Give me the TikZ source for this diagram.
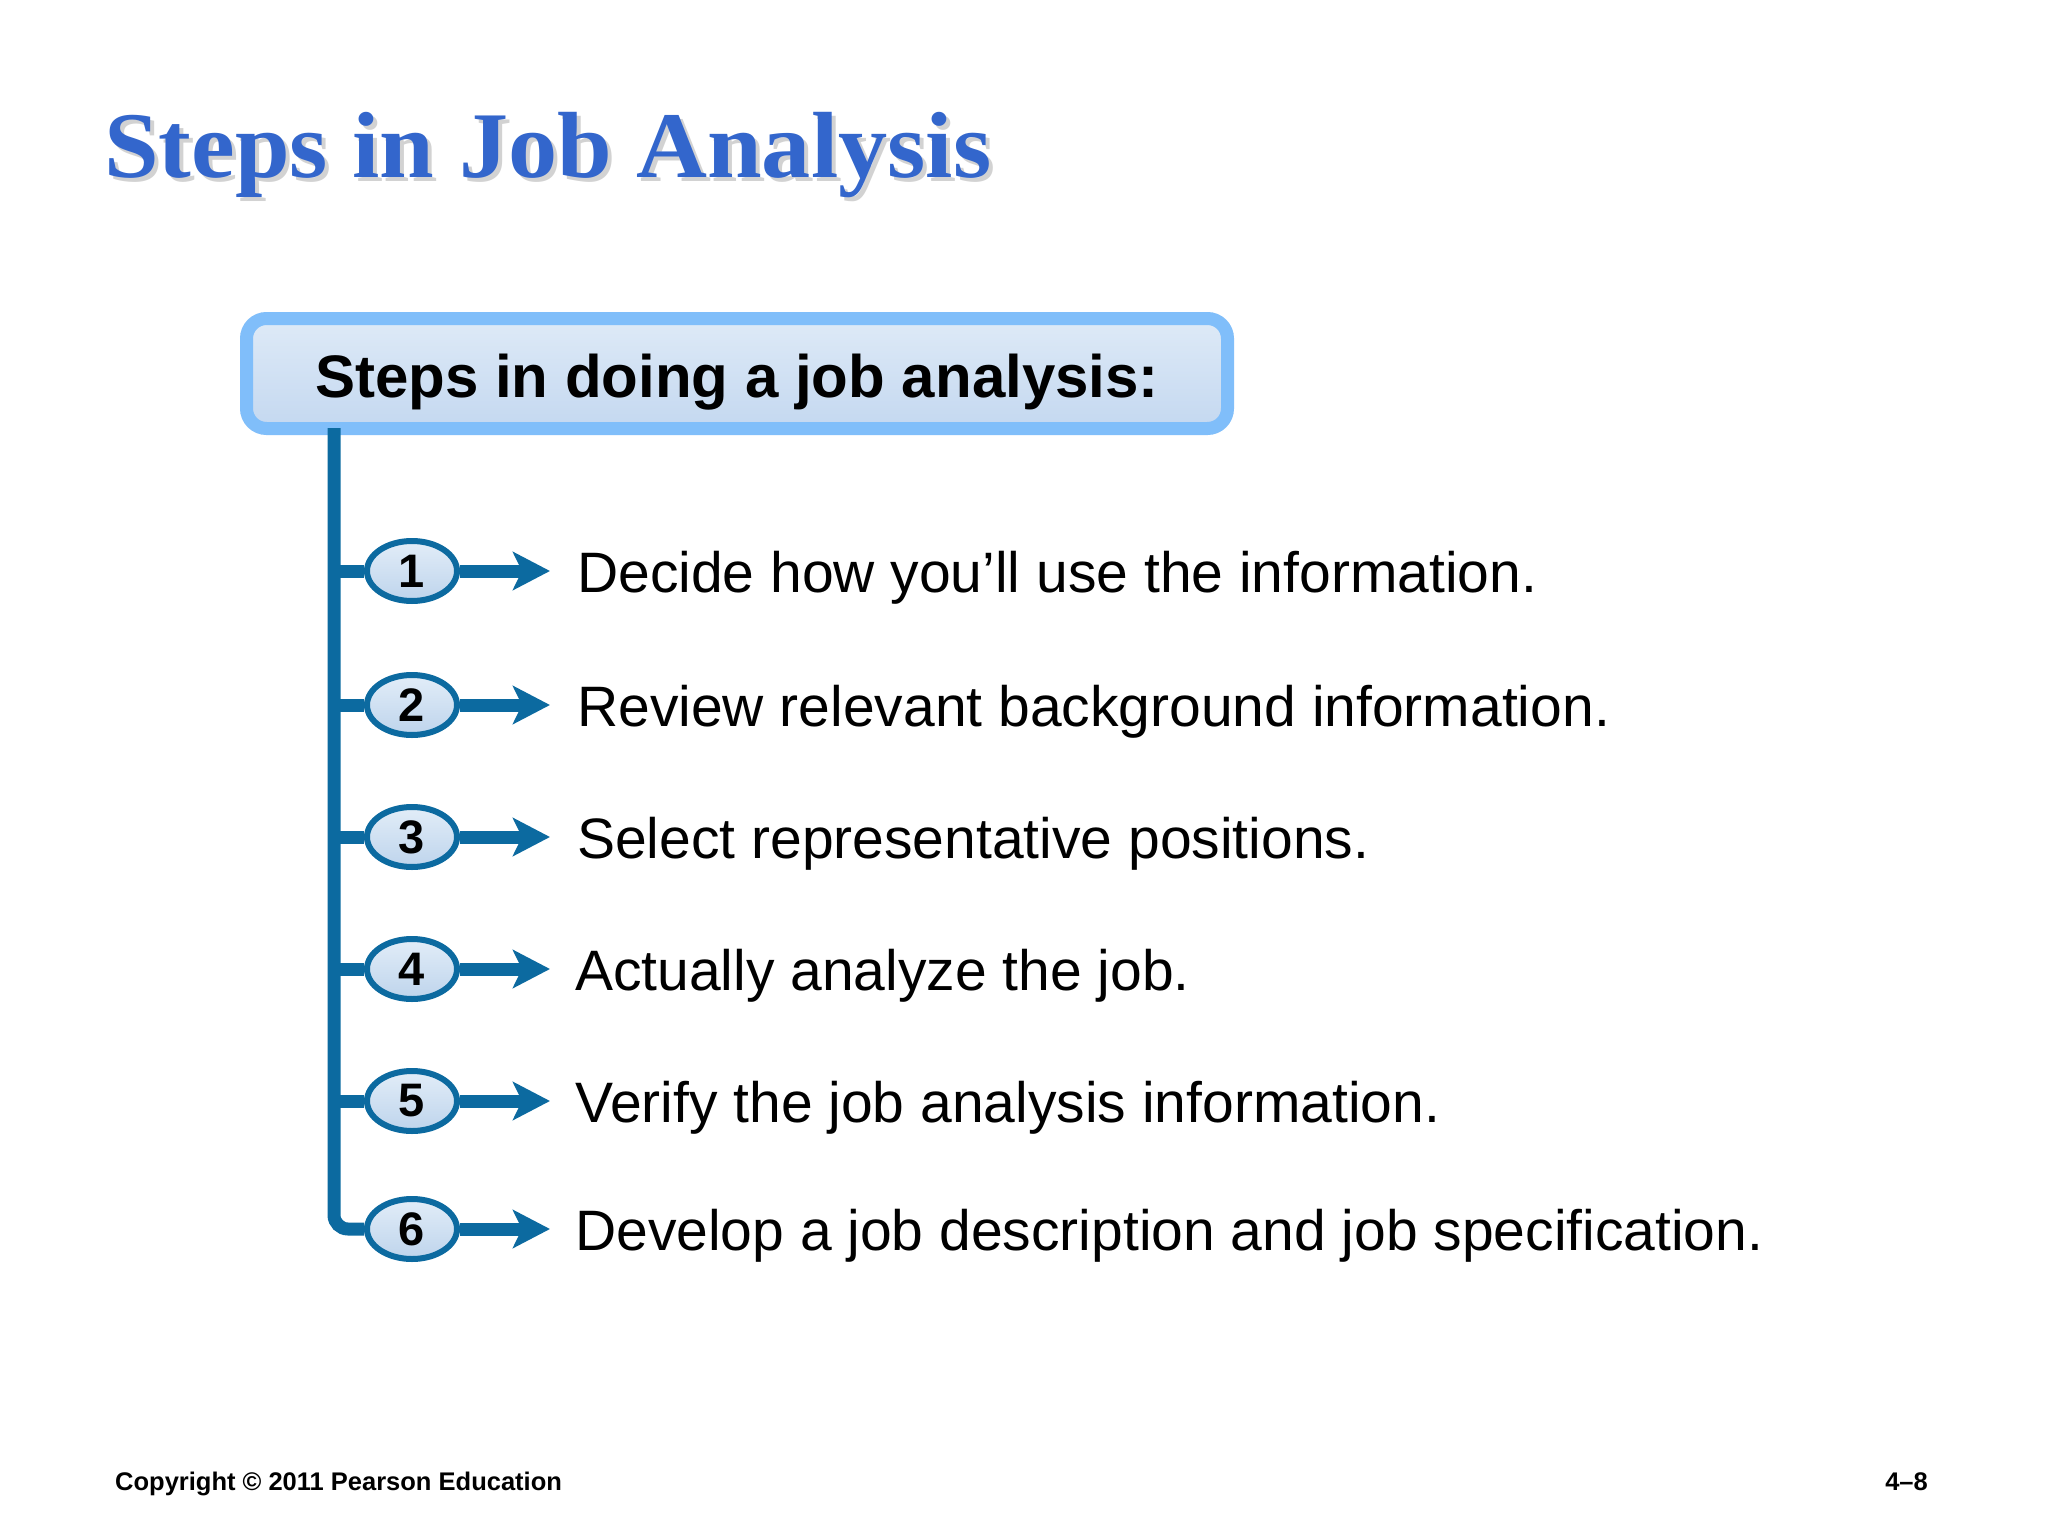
\documentclass[tikz,border=0pt]{standalone}
\usepackage{fontspec}
\setmainfont{Liberation Sans}
\newfontfamily\titlefont{Liberation Serif}
\usetikzlibrary{arrows.meta,shapes.geometric}
\definecolor{titleblue}{RGB}{51,102,204}
\definecolor{linkblue}{RGB}{12,106,160}
\definecolor{boxborder}{RGB}{128,190,250}
\definecolor{boxtop}{RGB}{222,234,247}
\definecolor{boxbot}{RGB}{196,216,240}
\definecolor{elltop}{RGB}{226,237,248}
\definecolor{ellbot}{RGB}{190,212,236}
\tikzset{
  headbox/.style={draw=boxborder, line width=13pt, rounded corners=20pt,
    top color=boxtop, bottom color=boxbot, minimum width=981pt, minimum height=110pt,
    inner sep=0pt, text height=47pt, text depth=0pt,
    font=\bfseries\fontsize{60}{66}\selectfont},
  stepell/.style={ellipse, draw=linkblue, line width=6pt, top color=elltop, bottom color=ellbot,
    minimum width=90pt, minimum height=60pt, inner sep=0pt,
    font=\bfseries\fontsize{47}{50}\selectfont},
  bus/.style={draw=linkblue, line width=13pt},
  steparrow/.style={bus, -{Stealth[length=37pt,width=38pt,inset=9pt]}},
  steptext/.style={anchor=base west, inner sep=0pt, font=\fontsize{57}{64}\selectfont},
  foot/.style={inner sep=0pt, font=\bfseries\fontsize{25.5}{28}\selectfont}
}
\begin{document}
\begin{tikzpicture}[x=1pt,y=-1pt]
\useasboundingbox[fill=white] (0,0) rectangle (2048,1536);
% title with soft shadow
\node[anchor=base west, inner sep=0pt, text=black!35, opacity=0.5] (titleshadow) at (108,181)
  {\titlefont\bfseries\fontsize{94}{100}\selectfont\scalebox{1.045}[1]{Steps in Job Analysis}};
\node[anchor=base west, inner sep=0pt, text=titleblue] (title) at (104,177)
  {\titlefont\bfseries\fontsize{94}{100}\selectfont\scalebox{1.045}[1]{Steps in Job Analysis}};
% header box
\node[headbox] (head) at (737,373.5) {Steps in doing a job analysis:};
% ellipses
\node[stepell] (e1) at (412,571) {1};
\node[stepell] (e2) at (412,705) {2};
\node[stepell] (e3) at (412,837) {3};
\node[stepell] (e4) at (412,969) {4};
\node[stepell] (e5) at (412,1101) {5};
\node[stepell] (e6) at (412,1229) {6};
% bus
\coordinate (bustop) at (334,428);
\draw[bus, rounded corners=14pt] (bustop) |- (e6.west);
\foreach \i in {1,...,5}{\draw[bus] (bustop |- e\i.west) -- (e\i.west);}
% arrow tips
\foreach \i in {1,...,6}{\coordinate (tip\i) at (550, 0 |- e\i.center);}
% texts
\node[steptext] (t1) at (577,592) {Decide how you’ll use the information.};
\node[steptext] (t2) at (577,726) {Review relevant background information.};
\node[steptext] (t3) at (577,858) {Select representative positions.};
\node[steptext] (t4) at (575,990) {Actually analyze the job.};
\node[steptext] (t5) at (575,1122) {Verify the job analysis information.};
\node[steptext] (t6) at (575,1250) {Develop a job description and job specification.};
\foreach \i in {1,...,6}{\draw[steparrow] (e\i.east) -- (tip\i);}
% footer
\node[foot, anchor=base west] (copy) at (115,1490) {Copyright © 2011 Pearson Education};
\node[foot, anchor=base east] (page) at (1928,1490) {4–8};
\end{tikzpicture}
\end{document}
